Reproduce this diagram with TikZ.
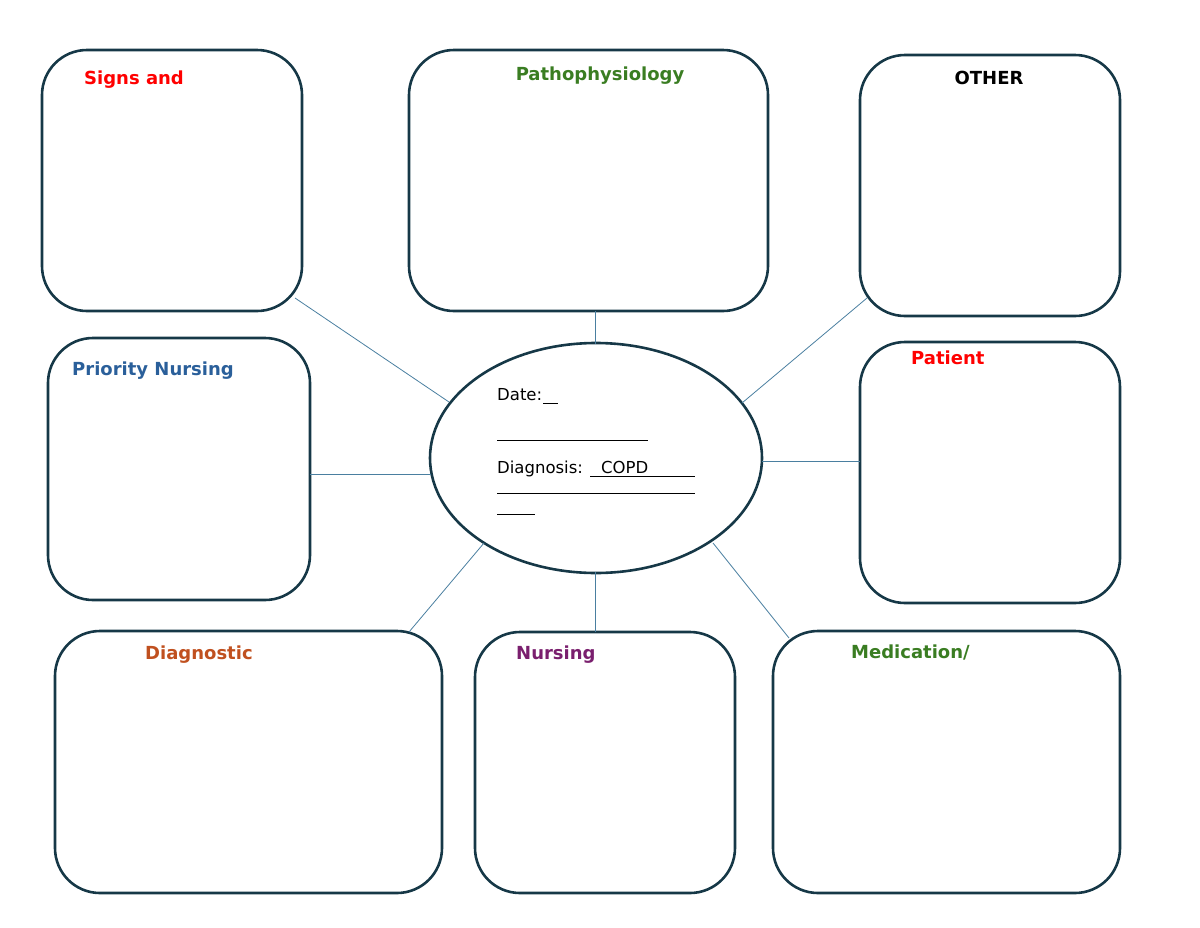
\documentclass[tikz,border=0pt]{standalone}
\usepackage{fontspec}
\setmainfont{DejaVu Sans}
\usetikzlibrary{shapes.geometric}
\definecolor{bx}{HTML}{163847}
\definecolor{cn}{HTML}{4A7FA0}
\definecolor{tgreen}{HTML}{3A7D22}
\definecolor{tblue}{HTML}{2A5F9A}
\definecolor{torange}{HTML}{C0501F}
\definecolor{tpurple}{HTML}{7A1F6E}
\begin{document}
\begin{tikzpicture}[x=1pt,y=-1pt,
  box/.style={draw=bx,line width=2.6pt,rounded corners=45pt},
  conn/.style={draw=cn,line width=0.8pt},
  ttl/.style={font=\fontsize{18}{20}\selectfont\bfseries,inner sep=0pt,anchor=base west},
  body/.style={font=\fontsize{16.5}{18}\selectfont,inner sep=0pt,anchor=base west},
  rl/.style={draw=black,line width=1pt}]
\useasboundingbox (0,0) rectangle (1200,927);
\draw[box] (42,50) rectangle (302,311);
\draw[box] (409,50) rectangle (768,311);
\draw[box] (860,55) rectangle (1120,316);
\draw[box] (48,338) rectangle (310,600);
\draw[box] (860,342) rectangle (1120,603);
\draw[box] (55,631) rectangle (442,893);
\draw[box] (475,632) rectangle (735,893);
\draw[box] (773,631) rectangle (1120,893);
\node[draw=bx,line width=2.6pt,ellipse,minimum width=332pt,minimum height=230pt,inner sep=0pt] (E) at (596,458) {};
\coordinate (a1) at (295,298); \coordinate (a2) at (595,311); \coordinate (a3) at (867,298);
\coordinate (a4) at (310,474); \coordinate (a5) at (860,461); \coordinate (a6) at (409,632);
\coordinate (a7) at (595,632); \coordinate (a8) at (789,638);
\coordinate (e1) at (449,402); \coordinate (e2) at (595,344); \coordinate (e3) at (742,403);
\coordinate (e4) at (431,474); \coordinate (e5) at (762,461); \coordinate (e6) at (484,543);
\coordinate (e7) at (595,572); \coordinate (e8) at (713,543);
\foreach \i in {1,...,8} \draw[conn] (a\i) -- (e\i);
\node[ttl,text=red] (t1) at (84,84) {Signs and};
\node[ttl,text=tgreen,anchor=base] (t2) at (600,80) {Pathophysiology};
\node[ttl,text=black,anchor=base] (t3) at (989,84) {OTHER};
\node[ttl,text=tblue] (t4) at (72,375) {Priority Nursing};
\node[ttl,text=red] (t5) at (911,364) {Patient};
\node[ttl,text=torange] (t6) at (145,659) {Diagnostic};
\node[ttl,text=tpurple] (t7) at (516,659) {Nursing};
\node[ttl,text=tgreen] (t8) at (851,658) {Medication/};
\node[body] (d1) at (497,400) {Date:};
\draw[rl] (543,403) -- (558,403);
\draw[rl] (497,440) -- (648,440);
\node[body] (d2) at (497,473) {Diagnosis:};
\node[body] (d3) at (601,473) {COPD};
\draw[rl] (590,476) -- (695,476);
\draw[rl] (497,493) -- (695,493);
\draw[rl] (497,514) -- (535,514);
\end{tikzpicture}
\end{document}
